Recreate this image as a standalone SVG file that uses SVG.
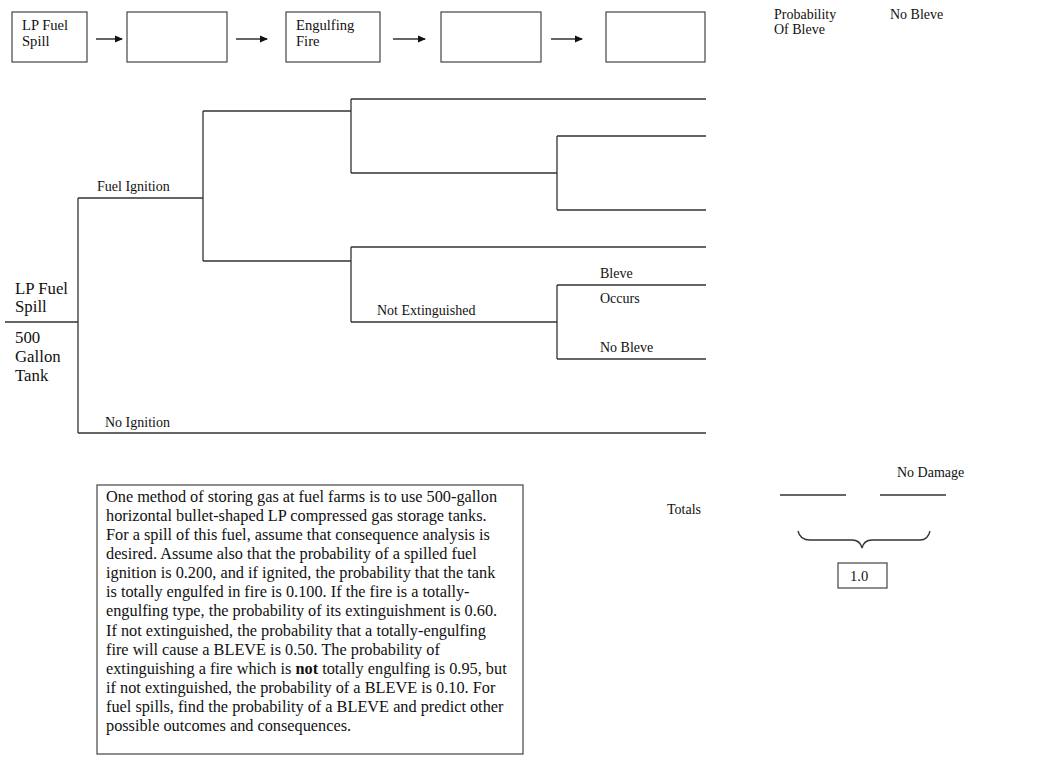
<svg xmlns="http://www.w3.org/2000/svg" width="1053" height="765" viewBox="0 0 1053 765">
<style>
text{font-family:"Liberation Serif","Times New Roman","DejaVu Serif",serif;fill:#111;}
.s{font-size:14px;}
.m{font-size:14.6px;}
.l{font-size:16.8px;}
.p{font-size:16.3px;}
.box{fill:#fff;stroke:#444;stroke-width:1.2;}
.ln{stroke:#333;stroke-width:1.3;fill:none;}
.ar{stroke:#111;stroke-width:1.3;fill:none;}
</style>
<defs>
<marker id="ah" markerWidth="8" markerHeight="8" refX="7" refY="4" orient="auto" markerUnits="userSpaceOnUse">
<path d="M0,0.5 L8,4 L0,7.5 Z" fill="#111"/>
</marker>
</defs>
<rect width="1053" height="765" fill="#fff"/>

<g id="chain-box1"><rect class="box" x="12" y="12" width="75" height="50"/><text class="m" x="22" y="30">LP Fuel</text><text class="m" x="22" y="46">Spill</text></g>
<g id="chain-box2"><rect class="box" x="127" y="12" width="100" height="50"/></g>
<g id="chain-box3"><rect class="box" x="286" y="12" width="94" height="50"/><text class="m" x="296" y="30">Engulfing</text><text class="m" x="296" y="46">Fire</text></g>
<g id="chain-box4"><rect class="box" x="441" y="12" width="100" height="50"/></g>
<g id="chain-box5"><rect class="box" x="606" y="12" width="99" height="50"/></g>

<g id="chain-arrows">
<line class="ar" x1="96" y1="39" x2="122" y2="39" marker-end="url(#ah)"/>
<line class="ar" x1="236" y1="39" x2="267" y2="39" marker-end="url(#ah)"/>
<line class="ar" x1="393" y1="39" x2="425" y2="39" marker-end="url(#ah)"/>
<line class="ar" x1="551" y1="39" x2="582" y2="39" marker-end="url(#ah)"/>
</g>

<g id="headers">
<text class="s" x="774" y="19">Probability</text>
<text class="s" x="774" y="34">Of Bleve</text>
<text class="s" x="890" y="19">No Bleve</text>
</g>

<g id="root"><text class="l" x="15" y="294">LP Fuel</text><text class="l" x="15" y="312">Spill</text><text class="l" x="15" y="343">500</text><text class="l" x="15" y="362">Gallon</text><text class="l" x="15" y="381">Tank</text></g>

<g id="connectors">
<path class="ln" d="M5,322 H78 M78,198 V433 M78,198 H203 M78,433 H706"/>
<path class="ln" d="M203,111 V261 M203,111 H351 M203,261 H351"/>
<path class="ln" d="M351,99 V173 M351,99 H706 M351,173 H557 M557,136 V210 M557,136 H706 M557,210 H706"/>
<path class="ln" d="M351,247 V322 M351,247 H706 M351,322 H557 M557,285 V359 M557,285 H706 M557,359 H706"/>
</g>

<g id="tree-labels">
<text class="s" x="97" y="191">Fuel Ignition</text>
<text class="s" x="105" y="427">No Ignition</text>
<text class="s" x="377" y="315">Not Extinguished</text>
<text class="s" x="600" y="278">Bleve</text>
<text class="s" x="600" y="303">Occurs</text>
<text class="s" x="600" y="352">No Bleve</text>
</g>

<g id="totals">
<text class="s" x="897" y="477">No Damage</text>
<text class="s" x="667" y="514">Totals</text>
<path class="ln" d="M780,495 H846 M880,495 H946"/>
<path class="ln" d="M798,531 Q800,540 810,540 H852 Q860,540 862,548 Q864,540 872,540 H920 Q928,540 930,531"/>
</g>
<g id="sum-box"><rect class="box" x="838" y="563" width="49" height="25"/><text class="m" x="850" y="581">1.0</text></g>

<g id="problem-text">
<rect class="box" x="97" y="485" width="426" height="269"/>
<text class="p" x="106" y="502">One method of storing gas at fuel farms is to use 500-gallon</text>
<text class="p" x="106" y="521">horizontal bullet-shaped LP compressed gas storage tanks.</text>
<text class="p" x="106" y="540">For a spill of this fuel, assume that consequence analysis is</text>
<text class="p" x="106" y="559">desired. Assume also that the probability of a spilled fuel</text>
<text class="p" x="106" y="578">ignition is 0.200, and if ignited, the probability that the tank</text>
<text class="p" x="106" y="597">is totally engulfed in fire is 0.100. If the fire is a totally-</text>
<text class="p" x="106" y="616">engulfing type, the probability of its extinguishment is 0.60.</text>
<text class="p" x="106" y="636">If not extinguished, the probability that a totally-engulfing</text>
<text class="p" x="106" y="655">fire will cause a BLEVE is 0.50. The probability of</text>
<text class="p" x="106" y="674">extinguishing a fire which is <tspan font-weight="bold">not</tspan> totally engulfing is 0.95, but</text>
<text class="p" x="106" y="693">if not extinguished, the probability of a BLEVE is 0.10. For</text>
<text class="p" x="106" y="712">fuel spills, find the probability of a BLEVE and predict other</text>
<text class="p" x="106" y="731">possible outcomes and consequences.</text>
</g>
</svg>
